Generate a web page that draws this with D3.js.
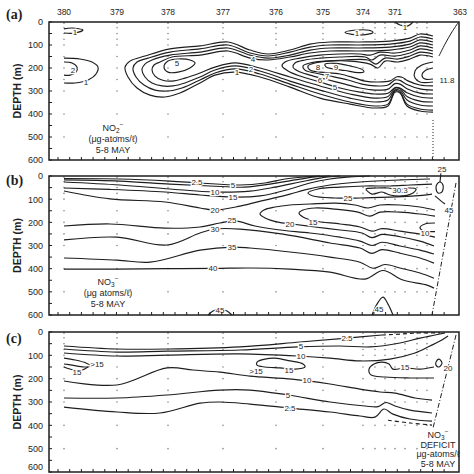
<!DOCTYPE html>
<html><head><meta charset="utf-8">
<script src="https://cdn.jsdelivr.net/npm/d3@7"></script>
<style>body{margin:0;background:#fff}svg{display:block}</style>
</head><body><svg id="chart" width="474" height="474"></svg>
<script>
// ---------------- DATA ----------------
// distance along section (km, arbitrary origin at left frame), depth (m)
const stationNames = ["380","379","378","377","376","375","374","371","363"];
const stationKm    = [15, 68, 119, 174, 227, 274, 314, 346, 411];
const extraCastKm  = [326, 336, 356, 368, 378];
const sampleDepths = [5, 25, 50, 75, 100, 150, 200, 250, 300, 400, 500];
const depthTicks   = [0, 100, 200, 300, 400, 500, 600];
const minorDepthTicks = [50, 150, 250, 350, 450, 550];

// Panel (a) NO2- contours
const nitriteLines = [
 [[384,61],[371,52],[361,70],[341,83],[311,87],[281,87],[261,96],[241,122],[219,139],[201,122],[179,87],[151,104],[121,117],[96,148],[81,170],[76,196],[79,239],[88,287],[101,318],[116,326],[131,309],[151,265],[166,231],[186,218],[211,239],[241,283],[271,331],[301,357],[326,374],[339,365],[346,305],[351,309],[358,365],[371,387],[384,392]],
 [[384,74],[371,65],[361,83],[341,96],[311,100],[281,100],[261,109],[241,131],[219,148],[201,135],[179,100],[151,117],[121,131],[99,157],[88,174],[84,200],[87,239],[95,274],[106,296],[119,300],[133,287],[151,252],[166,222],[186,204],[211,226],[241,270],[271,313],[301,348],[326,365],[339,357],[346,300],[351,305],[358,357],[371,378],[384,383]],
 [[384,87],[371,78],[361,96],[341,109],[311,113],[281,113],[261,122],[241,144],[219,157],[201,144],[179,113],[151,131],[121,144],[103,165],[96,183],[93,204],[96,239],[103,265],[113,278],[124,278],[136,265],[151,239],[166,209],[186,191],[211,213],[241,257],[271,296],[301,331],[326,348],[339,339],[346,295],[351,298],[358,339],[371,361],[384,365]],
 [[384,100],[371,91],[361,109],[341,122],[311,126],[281,126],[261,135],[241,152],[219,165],[201,157],[179,126],[151,144],[123,152],[111,174],[105,187],[103,209],[106,235],[113,252],[123,257],[136,244],[151,222],[166,196],[186,178],[211,200],[241,239],[271,278],[301,313],[326,331],[339,324],[346,288],[351,290],[358,324],[371,344],[384,348]],
 [[384,113],[371,104],[361,122],[346,135],[331,131],[321,144],[311,139],[291,139],[271,144],[251,157],[236,174],[233,191],[239,213],[251,235],[271,261],[291,287],[311,305],[326,313],[339,310],[346,285],[351,287],[358,308],[371,326],[384,331]],
 [[384,126],[371,117],[361,135],[346,148],[331,144],[323,165],[316,152],[291,152],[271,157],[256,165],[246,178],[244,196],[249,213],[261,231],[276,248],[296,270],[311,287],[326,296],[339,292],[346,268],[351,270],[358,290],[371,309],[384,313]],
 [[384,139],[371,131],[361,148],[349,161],[336,157],[327,183],[319,165],[296,165],[276,170],[261,178],[254,191],[256,209],[266,222],[281,235],[299,252],[313,270],[326,278],[339,274],[346,252],[351,254],[358,272],[371,291],[384,296]],
 [[384,152],[371,144],[361,161],[349,174],[336,170],[329,200],[321,183],[301,170],[281,170],[266,178],[259,191],[261,209],[271,218],[291,226],[306,244],[316,257],[329,261],[341,256],[348,238],[353,240],[359,256],[371,274],[384,278]],
 [[384,174],[373,187],[366,213],[366,244],[371,261],[384,261]],
 [[384,200],[377,209],[373,231],[376,248],[384,248]],
 [[15,30],[23,26],[34,35],[26,48],[15,48]],
 [[15,157],[31,161],[43,174],[49,196],[47,226],[39,252],[26,265],[15,265]],
 [[15,174],[23,178],[28,196],[27,218],[21,231],[15,231]],
 [[346,0],[351,13],[359,17],[364,0]]
];
const nitriteLoops = [
 [[115,196],[119,170],[129,161],[141,165],[146,178],[141,200],[129,218],[119,218]],
 [[276,183],[287,180],[301,191],[313,206],[315,216],[309,220],[296,211],[283,203],[277,195]],
 [[296,45],[305,36],[320,36],[324,45],[318,54],[303,54]]
];
const nitriteLabels = [["1",26,46],["2",24,209],["1",37,261],["5",128,178],["4",204,161],["2",202,204],["1",188,218],
 ["8",269,196],["9",287,198],["7",278,235],["6",271,252],["5",286,283],["1",308,48],["1",356,22],["11.8",398,252]];

// Panel (b) NO3- contours
const nitrateLines = [
 [[15,11],[71,13],[121,22],[151,30],[191,39],[216,30],[236,13],[256,4],[271,0]],
 [[15,17],[71,22],[121,35],[161,43],[196,48],[221,35],[246,17],[266,4],[281,0]],
 [[15,26],[71,39],[121,56],[166,69],[201,65],[226,48],[251,26],[271,9],[291,0]],
 [[15,52],[61,58],[116,69],[151,82],[184,91],[211,86],[241,56],[261,30],[281,13],[301,4],[321,0]],
 [[15,65],[61,99],[116,112],[151,138],[166,147],[191,130],[216,104],[241,78],[256,60],[281,39],[311,26],[351,17],[381,13]],
 [[383,35],[361,39],[341,43],[316,43],[291,48],[269,56],[259,73],[264,86],[286,95],[311,95],[341,91],[366,86],[383,78]],
 [[386,147],[371,134],[351,125],[331,125],[319,138],[306,125],[286,117],[261,121],[241,125],[226,134],[215,147],[211,164],[216,181],[229,199],[243,207],[266,220],[291,233],[313,246],[323,266],[333,252],[351,262],[371,281],[385,302]],
 [[386,173],[371,164],[351,156],[331,156],[321,173],[309,156],[286,143],[266,138],[254,147],[250,160],[254,177],[266,194],[291,207],[311,220],[323,238],[333,227],[351,238],[371,251],[386,264]],
 [[386,203],[376,207],[371,222],[374,236],[386,240]],
 [[15,216],[61,207],[116,225],[151,220],[171,203],[186,194],[206,216],[231,233],[261,246],[291,264],[311,281],[323,300],[333,286],[351,302],[371,320],[385,337]],
 [[15,276],[68,264],[118,298],[151,246],[166,229],[191,229],[234,251],[281,289],[311,311],[323,334],[333,318],[351,333],[371,354],[385,376]],
 [[15,354],[68,363],[101,372],[151,320],[184,307],[201,311],[241,328],[281,350],[311,372],[324,398],[336,382],[351,397],[371,419],[385,441]],
 [[15,402],[68,402],[118,400],[166,399],[201,397],[241,402],[281,415],[316,445],[334,408],[354,449],[378,471],[385,484]],
 [[159,600],[164,583],[171,574],[178,583],[183,600]],
 [[323,600],[328,553],[334,523],[339,553],[344,600]],
 [[392,-17],[391,26]],
 [[386,86],[391,104],[396,121]]
];
const nitrateLoops = [
 [[317,56],[323,78],[333,69],[341,82],[353,86],[364,73],[367,56],[359,52],[349,60],[339,52],[327,52]],
 [[388,35],[391,26],[394,39],[393,69],[389,73],[387,52]]
];
const nitrateLabels = [["2.5",148,26],["5",184,39],["10",166,69],["15",184,91],["20",166,147],["25",183,190],["30",166,229],
 ["35",183,307],["40",164,399],["45",171,580],["25",299,95],["30.3",351,60],["20",241,207],["15",264,199],["10",376,246],
 ["45",330,575],["25",393,-30],["45",400,147]];

// Panel (c) NO3- deficit contours
const deficitLines = [
 [[15,60],[68,73],[118,73],[191,64],[251,43],[298,26],[333,13]],
 [[15,73],[68,86],[118,82],[191,77],[249,64],[291,60],[321,64],[351,47],[371,26],[386,13],[396,4]],
 [[15,90],[68,103],[118,99],[191,94],[249,103],[281,112],[311,124],[341,116],[366,90],[381,60],[391,39],[399,17]],
 [[15,112],[26,120],[37,133],[42,146],[35,150],[23,142],[15,137]],
 [[15,150],[25,163],[33,163],[39,150]],
 [[385,150],[371,159],[356,154],[344,159],[340,137],[333,129],[325,137],[320,159],[322,184],[336,193],[361,197],[385,197]],
 [[15,210],[68,227],[118,154],[144,163],[171,172],[201,189],[243,202],[281,223],[311,245],[331,257],[346,262],[366,283],[383,292]],
 [[15,283],[68,283],[118,270],[171,249],[201,249],[239,270],[281,300],[316,317],[329,320],[337,302],[346,317],[361,335],[383,347]],
 [[15,322],[68,343],[111,347],[151,305],[171,300],[201,309],[241,326],[281,343],[311,360],[326,365],[335,330],[344,352],[361,373],[383,382]]
];
const deficitDashed = [
 [[333,13],[351,9],[371,4],[391,4]],
 [[339,378],[361,390],[383,399]]
];
const deficitLoops = [
 [[208,129],[216,116],[226,112],[241,124],[254,137],[256,150],[246,159],[231,154],[216,150],[208,142]],
 [[387,129],[390,116],[393,133],[390,150],[387,142]]
];
const deficitLabels = [["2.5",298,26],["5",252,60],["10",252,104],[">15",48,137],["15",28,172],[">15",207,166],["15",240,163],
 ["15",356,150],["20",399,154],["10",258,208],["5",239,270],["2.5",241,326]];

// slope / bottom boundaries
const slopeA = [[409,4],[403,43],[396,96],[390,148]];
const castA  = [[384,426],[384,600]];
const slopeB = [[407,30],[383,600]];
const slopeC = [[407,13],[384,412]];

// ---------------- DRAW ----------------
const svg = d3.select("#chart");
const L = 49, R = 459;
const x = d3.scaleLinear().domain([0, 410]).range([L, R]);
const panels = [
 {key:"(a)", top:22,  bottom:160, lines:nitriteLines, loops:nitriteLoops, labels:nitriteLabels, dashed:[], slope:slopeA},
 {key:"(b)", top:176, bottom:315, lines:nitrateLines, loops:nitrateLoops, labels:nitrateLabels, dashed:[], slope:slopeB},
 {key:"(c)", top:332, bottom:472, lines:deficitLines, loops:deficitLoops, labels:deficitLabels, dashed:deficitDashed, slope:slopeC}
];
const ink = "#1e1e1e";
const font = "'Liberation Sans', Arial, sans-serif";

panels.forEach((p, i) => {
  const y = d3.scaleLinear().domain([0, 600]).range([p.top, p.bottom]);
  const g = svg.append("g");

  // sample dots
  const dots = [];
  stationKm.slice(0, 8).concat(extraCastKm).forEach(k => sampleDepths.forEach(d => dots.push([k, d])));
  g.append("g").selectAll("circle").data(dots).join("circle")
    .attr("cx", d => x(d[0])).attr("cy", d => y(d[1])).attr("r", 0.8).attr("fill", "#8a8a8a");

  const line = d3.line().x(d => x(d[0])).y(d => y(d[1])).curve(d3.curveCatmullRom.alpha(0.5));
  const loop = d3.line().x(d => x(d[0])).y(d => y(d[1])).curve(d3.curveCatmullRomClosed.alpha(0.5));
  const cg = g.append("g").attr("fill", "none").attr("stroke", ink).attr("stroke-width", 1.15);
  cg.selectAll("path.l").data(p.lines).join("path").attr("class", "l").attr("d", line);
  cg.selectAll("path.o").data(p.loops).join("path").attr("class", "o").attr("d", loop);
  cg.selectAll("path.d").data(p.dashed).join("path").attr("class", "d").attr("d", line).attr("stroke-dasharray", "4,3");

  // slope boundary
  const slopeLine = d3.line().x(d => x(d[0])).y(d => y(d[1])).curve(d3.curveCatmullRom);
  g.append("path").attr("d", slopeLine(p.slope)).attr("fill", "none").attr("stroke", ink)
    .attr("stroke-width", 1).attr("stroke-dasharray", i === 0 ? null : "5,2,1,2");
  if (i === 0) g.append("path").attr("d", slopeLine(castA)).attr("fill", "none").attr("stroke", ink)
    .attr("stroke-width", 1).attr("stroke-dasharray", "1,2");

  // contour labels
  g.append("g").selectAll("text").data(p.labels).join("text")
    .attr("x", d => x(d[1])).attr("y", d => y(d[2])).attr("dy", "0.35em").attr("text-anchor", "middle")
    .attr("font-family", font).attr("font-size", 8).attr("fill", ink)
    .attr("stroke", "#fff").attr("stroke-width", 2.5).attr("paint-order", "stroke")
    .text(d => d[0]);

  // frame
  g.append("rect").attr("x", L).attr("y", p.top).attr("width", R - L).attr("height", p.bottom - p.top)
    .attr("fill", "none").attr("stroke", ink).attr("stroke-width", 1.5);

  // left axis
  const ax = d3.axisLeft(y).tickValues(depthTicks).tickSize(0).tickPadding(6).tickFormat(d3.format("d"));
  const axg = g.append("g").attr("transform", `translate(${L},0)`).call(ax);
  axg.select(".domain").remove();
  axg.selectAll("text").attr("font-family", font).attr("font-size", 9).attr("fill", ink);
  if (i === 2) axg.selectAll("text").filter(d => d === 600).attr("dy", "-0.25em");
  g.append("g").selectAll("line").data(depthTicks.concat(minorDepthTicks)).join("line")
    .attr("x1", L).attr("x2", L + 3).attr("y1", d => y(d)).attr("y2", d => y(d)).attr("stroke", ink);

  // bottom ticks
  const bt = d3.range(9, 405, 11.7);
  g.append("g").selectAll("line").data(bt).join("line")
    .attr("x1", d => x(d)).attr("x2", d => x(d)).attr("y1", p.bottom).attr("y2", p.bottom - 3)
    .attr("stroke", ink).attr("stroke-width", 1);

  // axis title and panel key
  const mid = (p.top + p.bottom) / 2;
  g.append("text").attr("transform", `translate(17,${mid}) rotate(-90)`).attr("text-anchor", "middle")
    .attr("dy", "0.35em").attr("font-family", font).attr("font-weight", "bold").attr("font-size", 10.5)
    .attr("fill", ink).text("DEPTH (m)");
  g.append("text").attr("x", 6).attr("y", [19, 185, 343][i]).attr("font-family", "'Liberation Serif', serif")
    .attr("font-weight", "bold").attr("font-size", 14).attr("fill", ink).text(p.key);
});

// station labels on top
svg.append("g").selectAll("text").data(stationNames).join("text")
  .attr("x", (d, i) => x(stationKm[i])).attr("y", 15).attr("text-anchor", "middle")
  .attr("font-family", font).attr("font-size", 8.5).attr("fill", ink).text(d => d);

// annotations
function note(lines, cx, y0, dy) {
  const t = svg.append("g");
  lines.forEach((s, k) => {
    const tx = t.append("text").attr("x", cx).attr("y", y0 + k * dy).attr("text-anchor", "middle")
      .attr("font-family", font).attr("font-size", 9).attr("fill", ink);
    s.forEach(part => {
      const ts = tx.append("tspan").text(part[0]);
      if (part[1] === "sub") ts.attr("font-size", 6.5).attr("dy", 2);
      if (part[1] === "sup") ts.attr("font-size", 6.5).attr("dy", -6);
    });
  });
}
note([[["NO"],["2","sub"],["−","sup"]], [["(μg-atoms/ℓ)"]], [["5-8 MAY"]]], 113, 131, 11);
note([[["NO"],["3","sub"],["−","sup"]], [["(μg atoms/ℓ)"]], [["5-8 MAY"]]], 108, 285, 11);
note([[["NO"],["3","sub"],["−","sup"]], [["DEFICIT"]], [["μg-atoms/ℓ"]], [["5-8 MAY"]]], 438, 438, 9.5);
</script></body></html>
